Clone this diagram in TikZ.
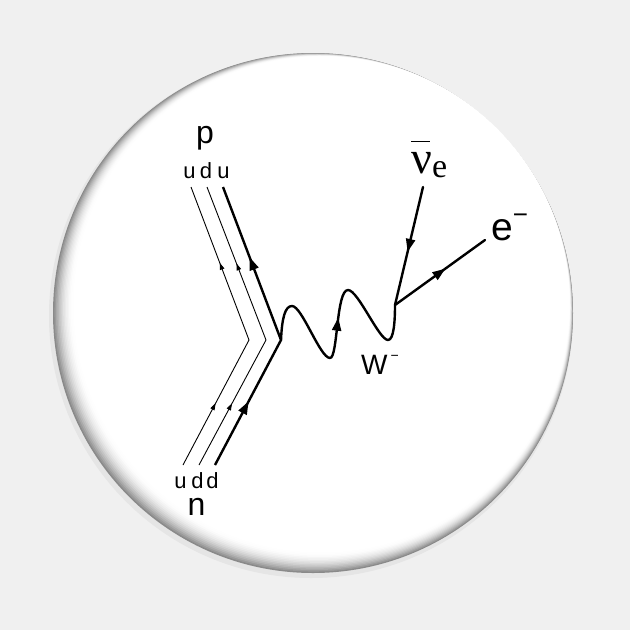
\documentclass[tikz,border=0pt]{standalone}
\usepackage{fontspec}
\setmainfont{Liberation Sans}
\newfontfamily\serifnu{Liberation Serif}
\usetikzlibrary{decorations.markings,arrows.meta}
\definecolor{bggray}{RGB}{240,240,240}
\tikzset{
  thinq/.style={line width=0.9pt, line join=miter},
  thickq/.style={line width=2.4pt, line join=miter},
  boson/.style={line width=2.4pt, line cap=round, line join=round},
  lepton/.style={line width=2.4pt, line cap=round},
  arrowat/.style 2 args={postaction=decorate, decoration={markings, mark=at position #1 with {\arrow{#2}}}},
  twoarrows/.style n args={3}{postaction=decorate, decoration={markings,
      mark=at position #1 with {\arrow{#3}}, mark=at position #2 with {\arrow{#3}}}},
  lbl/.style={inner sep=0pt, anchor=base},
  quark/.style={lbl, font=\fontsize{22}{22}\selectfont},
  hadron/.style={lbl, font=\fontsize{32}{32}\selectfont},
}
\begin{document}
\begin{tikzpicture}[x=1pt,y=-1pt]
\useasboundingbox (0,0) rectangle (630,630);
% ---- pin background ----
\fill[bggray] (0,0) rectangle (630,630);
\fill[black!10] (311,316) circle (262pt);
\foreach \k in {0,...,14}{
  \pgfmathsetmacro{\dd}{0.85*\k}
  \pgfmathsetmacro{\rr}{260-\dd}
  \pgfmathsetmacro{\cc}{46*(1-\k/14)^2}
  \fill[black!\cc] ({313+\dd*0.7071},{313-\dd*0.7071}) circle (\rr pt);
}
\fill[white] ({313+13.2*0.7071},{313-13.2*0.7071}) circle (247.4pt);
% ---- coordinates ----
\coordinate (n1) at (183,465);
\coordinate (n2) at (199,465);
\coordinate (n3) at (215,465);
\coordinate (b1) at (249,340);
\coordinate (b2) at (266,340);
\coordinate (b3) at (281,340);
\coordinate (p1) at (191,187);
\coordinate (p2) at (207,187);
\coordinate (p3) at (223,187);
\coordinate (vtx) at (395,305);
\coordinate (nuend) at (423,187);
\coordinate (eend) at (485,240);
\coordinate (wa) at (292,306);
\coordinate (wb) at (330,358);
\coordinate (wc) at (348,290);
\coordinate (wd) at (388,340);
% ---- quark lines ----
\draw[thinq, twoarrows={70pt}{224pt}{Triangle[length=7pt,width=4.5pt]}] (n1) -- (b1) -- (p1);
\draw[thinq, twoarrows={70pt}{224pt}{Triangle[length=7pt,width=4.5pt]}] (n2) -- (b2) -- (p2);
\draw[thickq, twoarrows={72pt}{230pt}{Triangle[length=13pt,width=9pt]}] (n3) -- (b3) -- (p3);
% ---- W boson ----
\draw[boson] (b3) .. controls (282,318) and (285,306) .. (wa)
   .. controls (302,306) and (320,358) .. (wb);
\draw[boson, arrowat={42pt}{Triangle[length=13pt,width=9pt]}] (wb) .. controls (338,358) and (336,290) .. (wc)
   .. controls (358,290) and (379,340) .. (wd)
   .. controls (394,340) and (395,320) .. (vtx);
% ---- leptons ----
\draw[lepton, arrowat={0.55}{Triangle[length=13pt,width=9pt]}] (nuend) -- (vtx);
\draw[lepton, arrowat={0.56}{Triangle[length=13pt,width=9pt]}] (vtx) -- (eend);
% ---- labels ----
\node[hadron] (lp) at (205,143) {p};
\node[quark] (lu1) at (189.5,178) {u};
\node[quark] (ld1) at (206,178) {d};
\node[quark] (lu2) at (223.5,178) {u};
\node[quark] (lu3) at (180.5,488) {u};
\node[quark] (ld2) at (197.5,488) {d};
\node[quark] (ld3) at (212.5,488) {d};
\node[hadron] (ln) at (196.5,515) {n};
\node[inner sep=0pt, anchor=base west, font=\fontsize{28}{28}\selectfont] (lw) at (361,374)
  {W\hspace{3pt}\raisebox{14pt}{\fontsize{14}{14}\selectfont −}};
\node[inner sep=0pt, anchor=base west, font=\fontsize{39}{39}\selectfont] (le) at (491,240)
  {e\raisebox{17pt}{\fontsize{26}{26}\selectfont −}};
\node[inner sep=0pt, anchor=base west, font=\serifnu\fontsize{46}{46}\selectfont] (lnu) at (411,173)
  {\rlap{\raisebox{31pt}{\rule{19pt}{1.5pt}}}ν\raisebox{-4pt}{\fontsize{34}{34}\selectfont e}};
\end{tikzpicture}
\end{document}
